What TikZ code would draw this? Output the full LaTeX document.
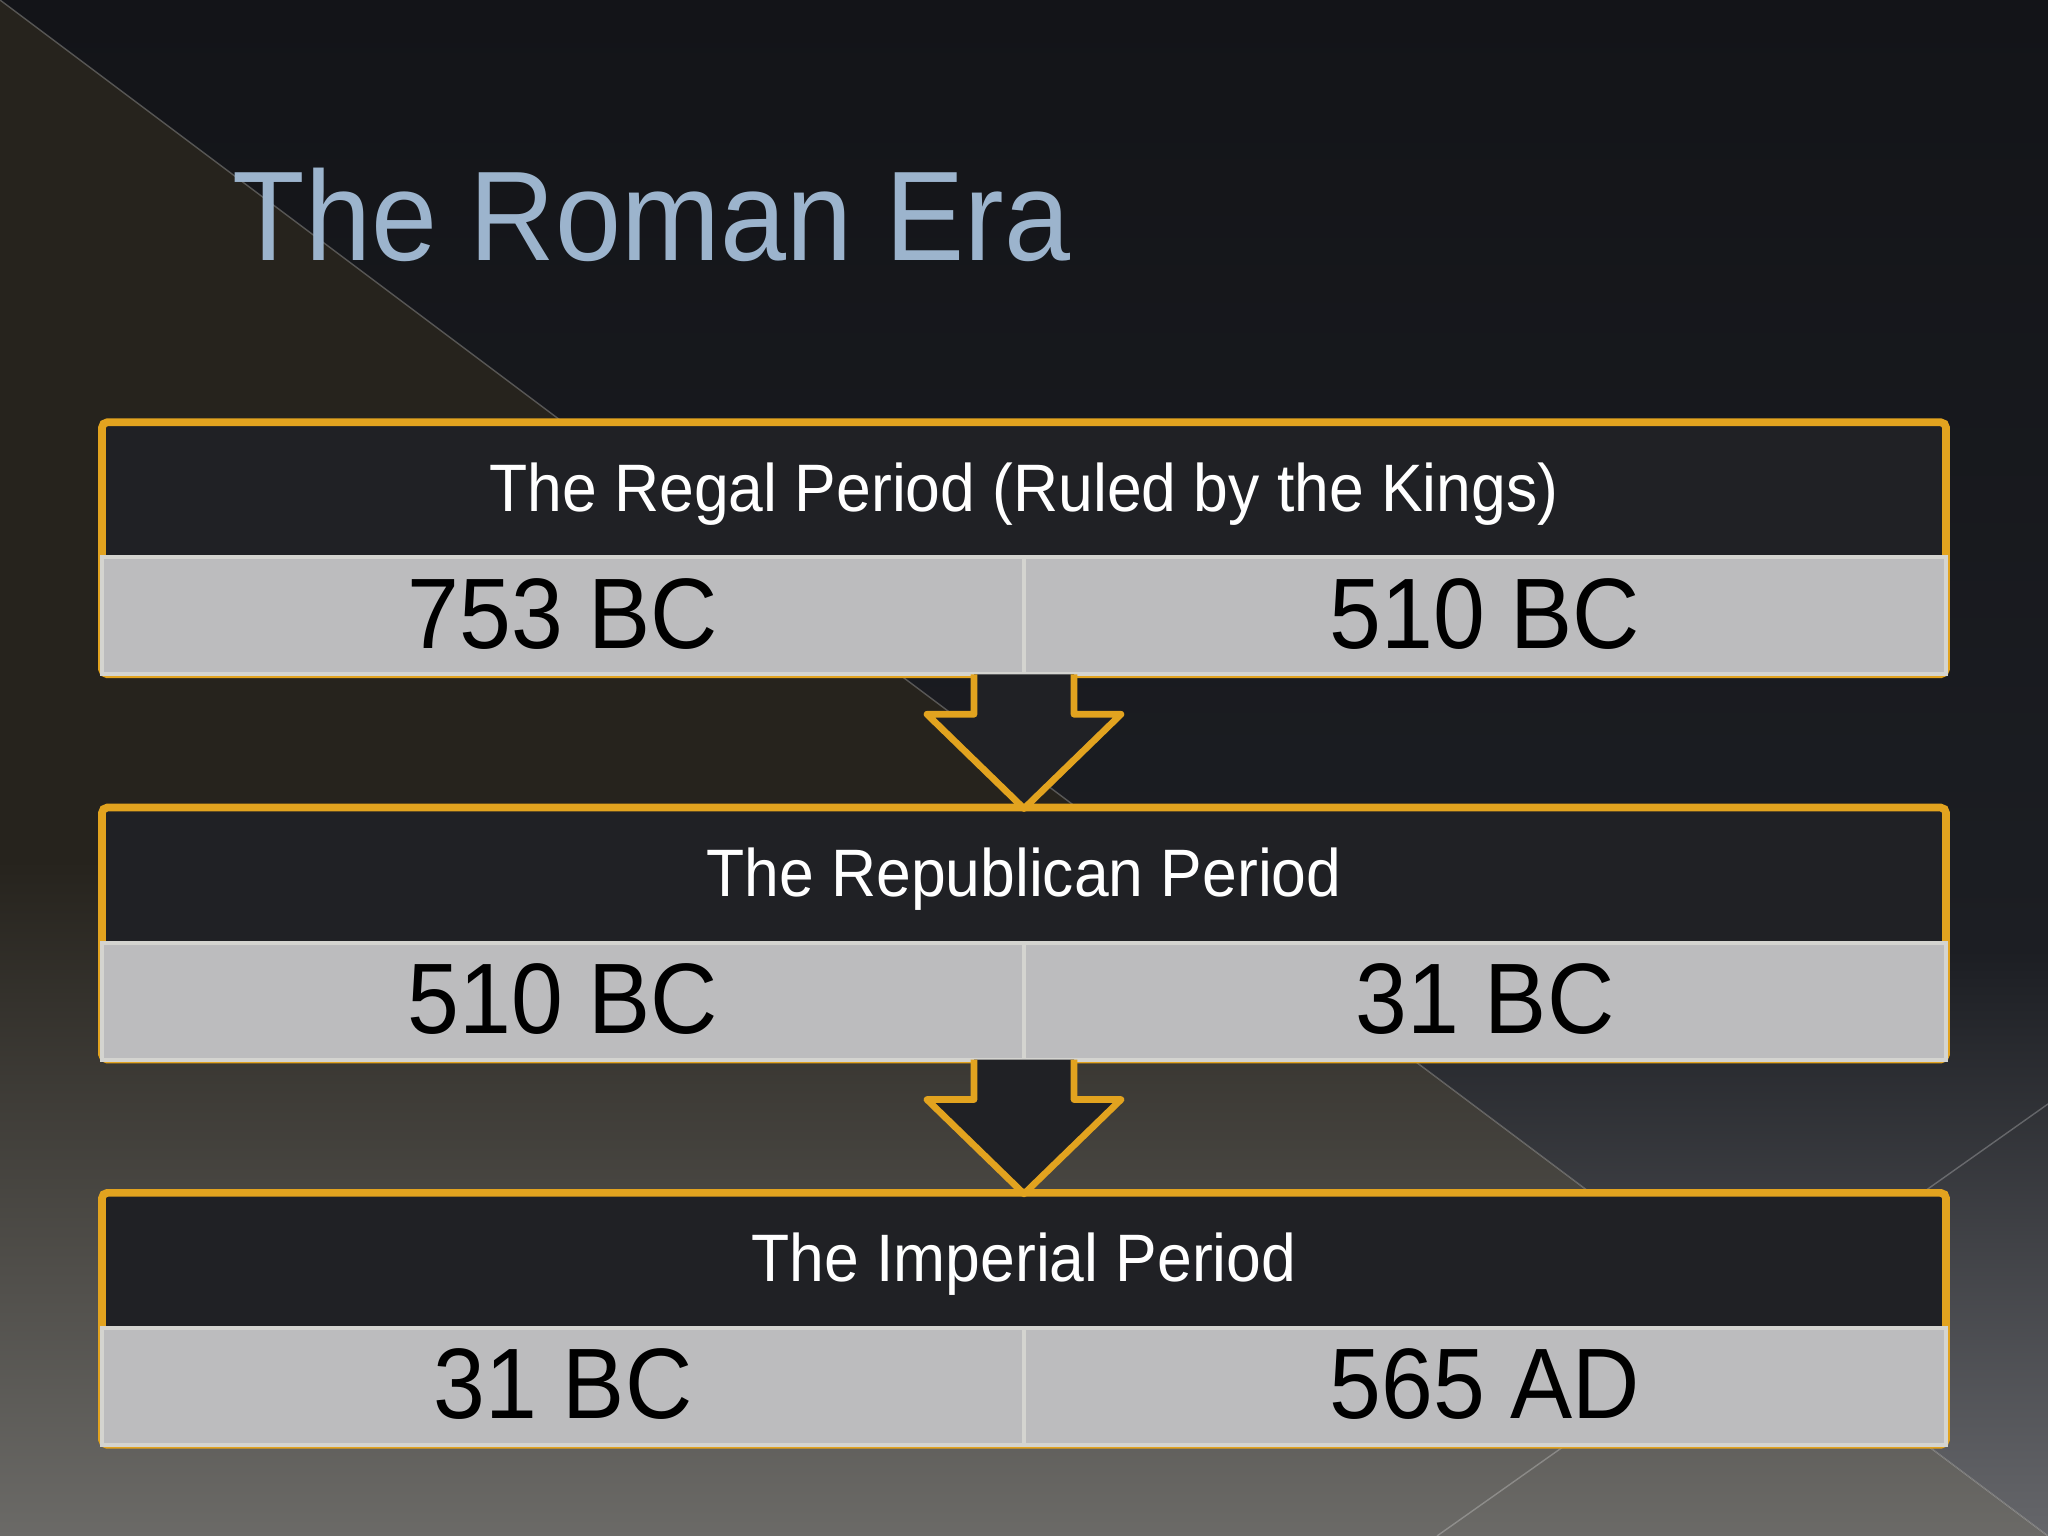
\documentclass[tikz,border=0pt]{standalone}
\usepackage{fontspec}
\setmainfont{Liberation Sans}[FakeStretch=0.93]
\usetikzlibrary{positioning,calc}
\definecolor{gold}{HTML}{E2A31F}
\definecolor{panel}{HTML}{202125}
\definecolor{cellgrey}{HTML}{BCBCBE}
\definecolor{celledge}{HTML}{D4D4D0}
\definecolor{titleblue}{HTML}{9CB4CD}
\definecolor{nighttop}{HTML}{131418}
\definecolor{nightmid}{HTML}{1C1E23}
\definecolor{nightlow}{HTML}{65666A}
\definecolor{sandtop}{HTML}{26231D}
\definecolor{sandlow}{HTML}{6B6A67}
\tikzset{
  period/.style={minimum width=18.44cm, minimum height=1.35cm, inner sep=0pt, outer sep=0pt, fill=panel,
    text=white, text height=.52cm, text depth=.09cm, font=\fontsize{19.1}{22}\selectfont},
  year/.style={minimum width=9.22cm, minimum height=1.17cm, inner sep=0pt, outer sep=0pt, fill=cellgrey,
    draw=celledge, line width=1.1pt, text=black, text height=.72cm, text depth=.07cm,
    font=\fontsize{28.5}{32}\selectfont},
  frame/.style={draw=gold, line width=2.2pt, rounded corners=1.5pt},
  downarrow/.style={draw=gold, fill=panel, line width=1.9pt, line join=round},
  slidetitle/.style={text=titleblue, inner sep=0pt, font=\fontsize{36.3}{40}\selectfont},
  thinline/.style={white, opacity=.25, line width=.4pt}
}
\begin{document}
\begin{tikzpicture}
\useasboundingbox (0,0) rectangle (20.48,15.36);
\fill[top color=nighttop, bottom color=nightmid] (0,5.86) rectangle (20.48,15.36);
\fill[top color=nightmid, bottom color=nightlow] (0,0) rectangle (20.48,5.86);
\begin{scope}
  \clip (0,15.36) -- (20.48,0) -- (0,0) -- cycle;
  \fill[sandtop] (0,6.76) rectangle (20.48,15.36);
  \fill[top color=sandtop, bottom color=sandlow] (0,0) rectangle (20.48,6.76);
\end{scope}
\draw[thinline] (0,15.36) -- (20.48,0);
\draw[thinline] (20.48,4.32) -- (14.37,0);

\node[slidetitle, anchor=base west] (title) at (2.32,12.75) {The Roman Era};

\node[period] (regal) at (10.24,10.462) {The Regal Period (Ruled by the Kings)};
\draw[frame] (regal.north west) rectangle ($(regal.south east)+(0,-1.17)$);
\node[year, anchor=north east] (regalfrom) at (regal.south) {753 BC};
\node[year, anchor=north west] (regalto) at (regal.south) {510 BC};

\node[period, below=1.333cm of regalfrom.south east] (repub) {The Republican Period};
\draw[frame] (repub.north west) rectangle ($(repub.south east)+(0,-1.17)$);
\node[year, anchor=north east] (repubfrom) at (repub.south) {510 BC};
\node[year, anchor=north west] (repubto) at (repub.south) {31 BC};

\node[period, below=1.333cm of repubfrom.south east] (imper) {The Imperial Period};
\draw[frame] (imper.north west) rectangle ($(imper.south east)+(0,-1.17)$);
\node[year, anchor=north east] (imperfrom) at (imper.south) {31 BC};
\node[year, anchor=north west] (imperto) at (imper.south) {565 AD};

\filldraw[downarrow] ($(regalfrom.south east)+(-.5,0)$) -- ++(0,-.4) -- ++(-.47,0)
  -- ($(repub.north)+(0,-.01)$) -- ($(regalto.south west)+(.97,-.4)$) -- ++(-.47,0) -- ++(0,.4);
\filldraw[downarrow] ($(repubfrom.south east)+(-.5,0)$) -- ++(0,-.4) -- ++(-.47,0)
  -- ($(imper.north)+(0,-.01)$) -- ($(repubto.south west)+(.97,-.4)$) -- ++(-.47,0) -- ++(0,.4);
\end{tikzpicture}
\end{document}
